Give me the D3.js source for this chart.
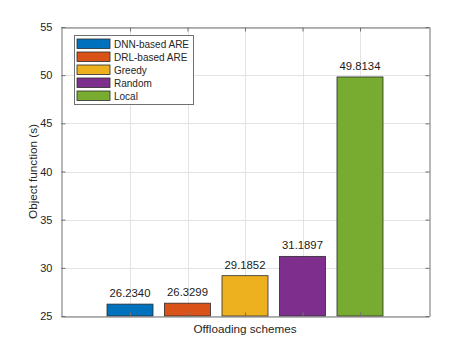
<!DOCTYPE html>
<html><head><meta charset="utf-8">
<script src="https://cdn.jsdelivr.net/npm/d3@7"></script>
<style>body{margin:0;background:#fff}svg{display:block}text{font-family:"Liberation Sans",Arial,sans-serif}</style>
</head><body>
<script>
const categories = ["DNN-based ARE","DRL-based ARE","Greedy","Random","Local"];
const values = [26.2340, 26.3299, 29.1852, 31.1897, 49.8134];
const labels = ["26.2340","26.3299","29.1852","31.1897","49.8134"];
const colors = ["#0072BD","#D95319","#EDB120","#7E2F8E","#77AC30"];
const yTicks = [25,30,35,40,45,50,55];
const xTicks = [1,2,3,4,5];

(function(){
const W=474,H=355;
const L=61,R=429,T=27,B=316;
const svg=d3.select("body").append("svg").attr("width",W).attr("height",H);
const x=d3.scaleLinear().domain([-0.2,6.2]).range([L,R]);
const y=d3.scaleLinear().domain([25,55]).range([B,T]);
const axisCol="#707070", textCol="#262626";

// grid
const g=svg.append("g");
g.selectAll(".gy").data(yTicks).enter().append("line")
 .attr("x1",L).attr("x2",R).attr("y1",d=>Math.round(y(d))+0.5).attr("y2",d=>Math.round(y(d))+0.5)
 .attr("stroke","#e3e3e3");
g.selectAll(".gx").data(xTicks).enter().append("line")
 .attr("y1",T).attr("y2",B).attr("x1",d=>Math.round(x(d))+0.5).attr("x2",d=>Math.round(x(d))+0.5)
 .attr("stroke","#e3e3e3");

// bars
const bw=(x(1)-x(0))*0.8;
svg.selectAll(".bar").data(values).enter().append("rect")
 .attr("x",(d,i)=>x(i+1)-bw/2).attr("width",bw)
 .attr("y",d=>y(d)).attr("height",d=>y(25)-y(d))
 .attr("fill",(d,i)=>colors[i]).attr("stroke","#2b2b2b").attr("stroke-width",0.8);

// axes with inward ticks
const aLeft=svg.append("g").attr("transform",`translate(${L+0.5},0)`)
 .call(d3.axisLeft(y).tickValues(yTicks).tickSizeInner(-4).tickSizeOuter(0).tickPadding(9));
const aRight=svg.append("g").attr("transform",`translate(${R+0.5},0)`)
 .call(d3.axisRight(y).tickValues(yTicks).tickSizeInner(-4).tickSizeOuter(0).tickFormat(""));
const aBottom=svg.append("g").attr("transform",`translate(0,${B+0.5})`)
 .call(d3.axisBottom(x).tickValues(xTicks).tickSizeInner(-4).tickSizeOuter(0).tickFormat(""));
const aTop=svg.append("g").attr("transform",`translate(0,${T+0.5})`)
 .call(d3.axisTop(x).tickValues(xTicks).tickSizeInner(-4).tickSizeOuter(0).tickFormat(""));
[aLeft,aRight,aBottom,aTop].forEach(a=>{
 a.select(".domain").attr("stroke",axisCol);
 a.selectAll(".tick line").attr("stroke",axisCol);
 a.selectAll("text").attr("fill",textCol).style("font-size","11px").style("font-family","'Liberation Sans',Arial,sans-serif");
});

// value labels
svg.selectAll(".vl").data(values).enter().append("text")
 .attr("x",(d,i)=>x(i+1)).attr("y",d=>y(d)-7)
 .attr("text-anchor","middle").attr("fill","#1a1a1a").style("font-size","11.3px")
 .text((d,i)=>labels[i]);

// axis labels
svg.append("text").attr("x",(L+R)/2).attr("y",333).attr("text-anchor","middle")
 .attr("fill",textCol).style("font-size","11.7px").text("Offloading schemes");
svg.append("text").attr("transform",`translate(37,${(T+B)/2}) rotate(-90)`).attr("text-anchor","middle")
 .attr("fill",textCol).style("font-size","11.7px").text("Object function (s)");

// legend
const lg=svg.append("g");
lg.append("rect").attr("x",74.5).attr("y",35.5).attr("width",119).attr("height",69)
 .attr("fill","#fff").attr("stroke","#707070");
const rows=lg.selectAll(".lr").data(categories).enter().append("g")
 .attr("transform",(d,i)=>`translate(0,${39+i*13})`);
rows.append("rect").attr("x",77).attr("y",0).attr("width",33).attr("height",9.5)
 .attr("fill",(d,i)=>colors[i]).attr("stroke","#2b2b2b").attr("stroke-width",0.8);
rows.append("text").attr("x",114).attr("y",8.8).attr("fill",textCol).style("font-size","10px").text(d=>d);
})();
</script>
</body></html>
